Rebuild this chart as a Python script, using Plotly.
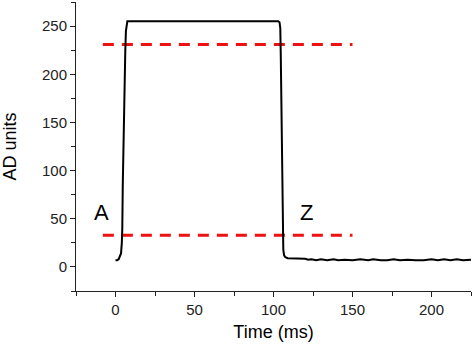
import plotly.graph_objects as go

# Signal trace (time in ms, AD units)
time_ms = [0, 1, 2, 2.5, 3, 3.5, 4, 4.3, 4.6, 5.0, 5.4, 5.8, 6.2, 6.6, 7.0, 7.5, 8, 20, 40, 60, 80, 100,
           103, 103.8, 104.3, 104.6, 104.9, 105.2, 105.5, 105.8, 106.2, 106.7, 107.5, 109, 112, 116, 119,
           120, 121, 122, 124, 127, 130, 134, 138, 141, 145, 150, 155, 160, 163, 168, 172, 176, 180, 185,
           190, 195, 200, 204, 208, 212, 216, 220, 225]
signal = [7, 7, 8, 10, 11, 14, 25, 40, 85, 130, 165, 200, 225, 245, 253, 255, 255, 255, 255, 255, 255, 255,
          255, 254, 248, 220, 170, 120, 70, 35, 18, 12, 10, 9, 9, 9, 9,
          8.5, 8, 7.5, 8, 7, 8, 7, 8, 7, 7.5, 7, 8, 7, 8, 7, 7, 8, 7, 7.5,
          7, 7, 8, 7, 8, 7, 8, 7, 7.5]

# Threshold lines
threshold_levels = [231, 33]
threshold_x = [-8, 150]

# Annotations
labels = ["A", "Z"]
label_x = [-9, 121]
label_y = [57, 57]

FONT = "Liberation Sans"

fig = go.Figure()
for lvl in threshold_levels:
    fig.add_trace(go.Scatter(x=threshold_x, y=[lvl, lvl], mode="lines",
                             line=dict(color="#ee1111", width=3, dash="11px,8px"),
                             showlegend=False, hoverinfo="skip"))
fig.add_trace(go.Scatter(x=time_ms, y=signal, mode="lines",
                         line=dict(color="black", width=2), showlegend=False))

for t, xx, yy in zip(labels, label_x, label_y):
    fig.add_annotation(x=xx, y=yy, text=t, showarrow=False,
                       font=dict(size=22, color="black", family=FONT))

axis_common = dict(showline=True, linecolor="#222", linewidth=1, showgrid=False, zeroline=False,
                   ticks="outside", ticklen=5, tickcolor="#222", tickwidth=1,
                   tickfont=dict(size=15, color="#222", family=FONT))

fig.update_xaxes(range=[-25, 225], dtick=50, tick0=0,
                 minor=dict(ticks="outside", dtick=25, tick0=0, ticklen=4, tickcolor="#222"),
                 title=dict(text="Time (ms)", font=dict(size=18, color="black", family=FONT),
                            standoff=8),
                 **axis_common)
fig.update_yaxes(range=[-25, 275], dtick=50, tick0=0,
                 minor=dict(ticks="outside", dtick=25, tick0=0, ticklen=4, tickcolor="#222"),
                 title=dict(text="AD units", font=dict(size=18, color="black", family=FONT),
                            standoff=20),
                 **axis_common)

fig.update_layout(width=474, height=346, margin=dict(l=76, r=3, t=2, b=55),
                  plot_bgcolor="white", paper_bgcolor="white")

fig.write_html("out.html")
